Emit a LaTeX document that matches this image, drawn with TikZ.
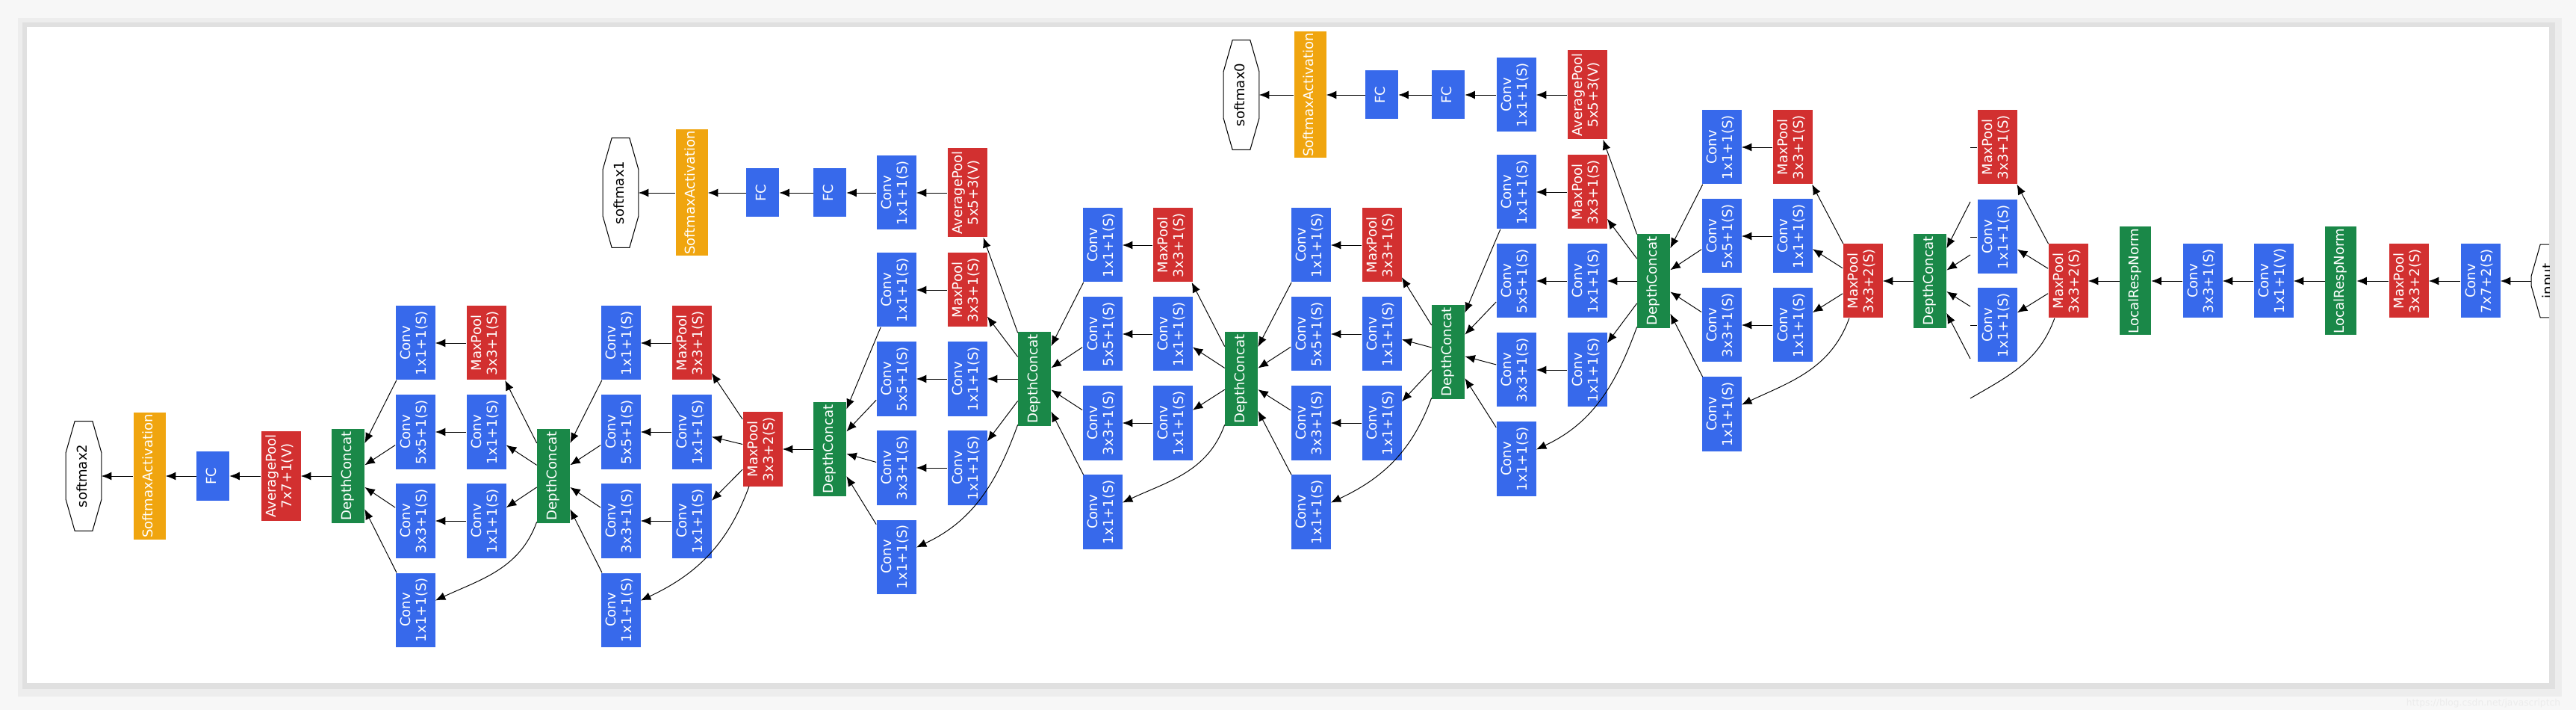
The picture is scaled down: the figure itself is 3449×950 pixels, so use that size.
\documentclass[tikz,border=0pt]{standalone}
\usepackage{fontspec}
\usepackage{graphicx}
\setmainfont{DejaVu Sans}
\usetikzlibrary{arrows.meta}
\definecolor{gblue}{RGB}{55,105,235}
\definecolor{gred}{RGB}{210,48,48}
\definecolor{ggreen}{RGB}{26,136,72}
\definecolor{gorange}{RGB}{240,165,15}
\newcommand\rt[1]{\rotatebox{90}{\begin{tabular}{@{}c@{}}#1\end{tabular}}}
\newcommand\hexa[1]{\draw[line width=0.6pt] ([xshift=2.4mm]#1.north west) -- ([xshift=-2.4mm]#1.north east) -- ([yshift=-8.4mm]#1.north east) -- ([yshift=8.4mm]#1.south east) -- ([xshift=-2.4mm]#1.south east) -- ([xshift=2.4mm]#1.south west) -- ([yshift=8.4mm]#1.south west) -- ([yshift=-8.4mm]#1.north west) -- cycle;}
\newcommand\incep[7]{%
\node[mpool] (#1a1) at (#3,#7) {\rt{MaxPool\\3x3+1(S)}};
\node[conv] (#1a2) at (#3,{#7+119}) {\rt{Conv\\1x1+1(S)}};
\node[conv] (#1a3) at (#3,{#7+238}) {\rt{Conv\\1x1+1(S)}};
\node[conv] (#1b1) at (#4,#7) {\rt{Conv\\1x1+1(S)}};
\node[conv] (#1b2) at (#4,{#7+119}) {\rt{Conv\\5x5+1(S)}};
\node[conv] (#1b3) at (#4,{#7+238}) {\rt{Conv\\3x3+1(S)}};
\node[conv] (#1b4) at (#4,{#7+357}) {\rt{Conv\\1x1+1(S)}};
\node[dc] (#1dc) at (#5,#6) {\rt{DepthConcat}};
\draw[arr] (#2) -- (#1a1);
\draw[arr] (#2) -- (#1a2);
\draw[arr] (#2) -- (#1a3);
\draw[arr] (#2) to[out=250,in=25] (#1b4);
\draw[arr] (#1a1) -- (#1b1);
\draw[arr] (#1a2) -- (#1b2);
\draw[arr] (#1a3) -- (#1b3);
\draw[arr] (#1b1) -- (#1dc);
\draw[arr] (#1b2) -- (#1dc);
\draw[arr] (#1b3) -- (#1dc);
\draw[arr] (#1b4) -- (#1dc);
}
\tikzset{
 box/.style={rectangle, inner sep=0pt, text=white, font=\fontsize{10.3}{12}\selectfont},
 conv/.style={box, fill=gblue, minimum width=10.6mm, minimum height=19.8mm},
 mpool/.style={box, fill=gred, minimum width=10.6mm, minimum height=19.8mm},
 avg/.style={box, fill=gred, minimum width=10.6mm, minimum height=23.8mm},
 dc/.style={box, fill=ggreen, minimum width=8.8mm, minimum height=25.2mm},
 lrn/.style={box, fill=ggreen, minimum width=8.4mm, minimum height=29mm},
 fc/.style={box, fill=gblue, minimum width=8.8mm, minimum height=13mm},
 sact/.style={box, fill=gorange, minimum width=8.6mm, minimum height=33.8mm},
 hexn/.style={rectangle, inner sep=0pt, text=black, font=\fontsize{10.3}{12}\selectfont, minimum width=9.4mm, minimum height=29.2mm},
 arr/.style={-{Latex[length=2.7mm,width=2.2mm]}, line width=0.55pt},
}
\begin{document}
\begin{tikzpicture}[x=0.2mm,y=-0.2mm]
\useasboundingbox (0,0) rectangle (3449,950);
\fill[gray!6] (0,0) rectangle (3449,950);
\fill[gray!14] (24,24) rectangle (3430,932);
\fill[gray!24] (30,30) rectangle (3421,922);
\fill[white] (36,36) rectangle (3413,914);
\node[text=white!85!gray, font=\fontsize{7}{8}\selectfont] (wm) at (3325,941) {https://blog.csdn.net/javascriptch};
\begin{scope}
\clip (36,36) rectangle (3413,914);
% stem
\node[hexn, minimum height=19.4mm] (inp) at (3413,376) {\rt{input}};
\hexa{inp}
\node[conv] (c7) at (3321,376) {\rt{Conv\\7x7+2(S)}};
\node[mpool] (mp1) at (3225,376) {\rt{MaxPool\\3x3+2(S)}};
\node[lrn] (lrn1) at (3134,376) {\rt{LocalRespNorm}};
\node[conv] (c1v) at (3044,376) {\rt{Conv\\1x1+1(V)}};
\node[conv] (c3) at (2949,376) {\rt{Conv\\3x3+1(S)}};
\node[lrn] (lrn2) at (2859,376) {\rt{LocalRespNorm}};
\node[mpool] (mp2) at (2769,376) {\rt{MaxPool\\3x3+2(S)}};
\draw[arr] (inp) -- (c7);
\draw[arr] (c7) -- (mp1);
\draw[arr] (mp1) -- (lrn1);
\draw[arr] (lrn1) -- (c1v);
\draw[arr] (c1v) -- (c3);
\draw[arr] (c3) -- (lrn2);
\draw[arr] (lrn2) -- (mp2);
% partial inception
\node[mpool] (pa1) at (2674,197) {\rt{MaxPool\\3x3+1(S)}};
\node[conv] (pa2) at (2674,317) {\rt{Conv\\1x1+1(S)}};
\node[conv] (pa3) at (2674,435) {\rt{Conv\\1x1+1(S)}};
\draw[arr] (mp2) -- (pa1);
\draw[arr] (mp2) -- (pa2);
\draw[arr] (mp2) -- (pa3);
\coordinate (s1) at (2638,197);
\coordinate (s2) at (2638,317);
\coordinate (s3) at (2638,435);
\draw[line width=0.55pt] (s1) -- (pa1.west);
\draw[line width=0.55pt] (s2) -- (pa2.west);
\draw[line width=0.55pt] (s3) -- (pa3.west);
\coordinate (cc) at (2638,533);
\draw[line width=0.55pt] (mp2) to[out=250,in=30] (cc);
\node[dc] (pdc) at (2584,376) {\rt{DepthConcat}};
\coordinate (l1) at (2638,270);
\coordinate (l2) at (2638,341);
\coordinate (l3) at (2638,410);
\coordinate (l4) at (2638,480);
\draw[arr] (l1) -- (pdc);
\draw[arr] (l2) -- (pdc);
\draw[arr] (l3) -- (pdc);
\draw[arr] (l4) -- (pdc);
\node[mpool] (mp3) at (2494,376) {\rt{MaxPool\\3x3+2(S)}};
\draw[arr] (pdc) -- (mp3);
% inceptions
\incep{ia}{mp3}{2400}{2305}{2214}{376}{197}
\incep{ib}{iadc}{2125}{2030}{1939}{471}{257}
\incep{ic}{ibdc}{1850}{1755}{1662}{507}{328}
\incep{id}{icdc}{1570}{1476}{1385}{507}{328}
\incep{ie}{iddc}{1295}{1200}{1111}{601}{388}
\node[mpool] (mp4) at (1021,601) {\rt{MaxPool\\3x3+2(S)}};
\draw[arr] (iedc) -- (mp4);
\incep{iff}{mp4}{926}{831}{741}{637}{459}
\incep{ig}{iffdc}{651}{556}{466}{637}{459}
% aux 0
\node[avg] (av0) at (2125,127) {\rt{AveragePool\\5x5+3(V)}};
\node[conv] (ac0) at (2030,127) {\rt{Conv\\1x1+1(S)}};
\node[fc] (fa0) at (1939,127) {\rt{FC}};
\node[fc] (fb0) at (1850,127) {\rt{FC}};
\node[sact] (sa0) at (1754,127) {\rt{SoftmaxActivation}};
\node[hexn] (sm0) at (1662,127) {\rt{softmax0}};
\hexa{sm0}
\draw[arr] (iadc) -- (av0);
\draw[arr] (av0) -- (ac0);
\draw[arr] (ac0) -- (fa0);
\draw[arr] (fa0) -- (fb0);
\draw[arr] (fb0) -- (sa0);
\draw[arr] (sa0) -- (sm0);
% aux 1
\node[avg] (av1) at (1295,258) {\rt{AveragePool\\5x5+3(V)}};
\node[conv] (ac1) at (1200,258) {\rt{Conv\\1x1+1(S)}};
\node[fc] (fa1) at (1111,258) {\rt{FC}};
\node[fc] (fb1) at (1021,258) {\rt{FC}};
\node[sact] (sa1) at (926,258) {\rt{SoftmaxActivation}};
\node[hexn] (sm1) at (831,258) {\rt{softmax1}};
\hexa{sm1}
\draw[arr] (iddc) -- (av1);
\draw[arr] (av1) -- (ac1);
\draw[arr] (ac1) -- (fa1);
\draw[arr] (fa1) -- (fb1);
\draw[arr] (fb1) -- (sa1);
\draw[arr] (sa1) -- (sm1);
% output
\node[avg] (av2) at (376,637) {\rt{AveragePool\\7x7+1(V)}};
\node[fc] (fc2) at (285,637) {\rt{FC}};
\node[sact] (sa2) at (200,637) {\rt{SoftmaxActivation}};
\node[hexn] (sm2) at (112,637) {\rt{softmax2}};
\hexa{sm2}
\draw[arr] (igdc) -- (av2);
\draw[arr] (av2) -- (fc2);
\draw[arr] (fc2) -- (sa2);
\draw[arr] (sa2) -- (sm2);
\end{scope}
\end{tikzpicture}
\end{document}
